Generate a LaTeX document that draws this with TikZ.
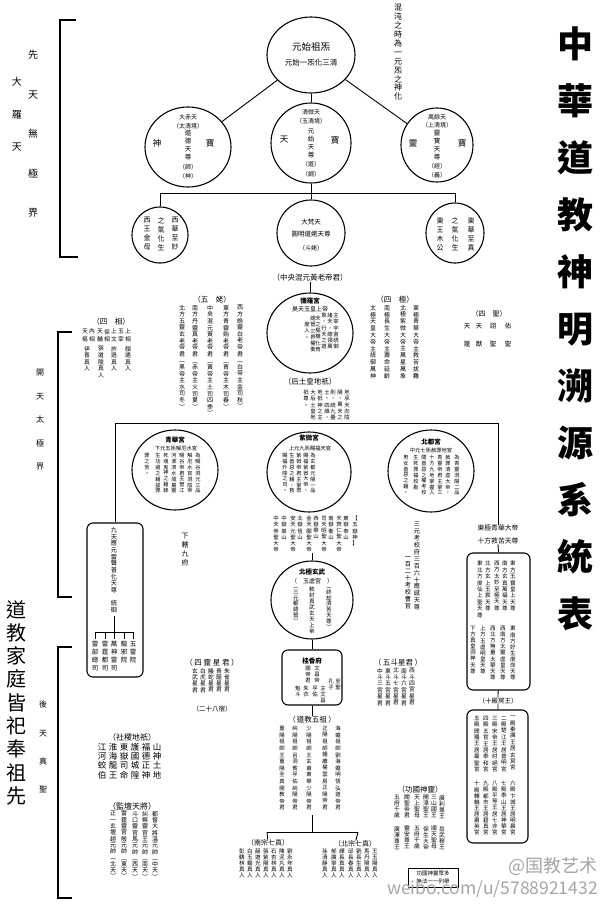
\documentclass[tikz,border=0pt]{standalone}
\usepackage{fontspec}
\setmainfont{Noto Sans CJK TC}
\usetikzlibrary{shapes.geometric}
\makeatletter
\def\vc@end{\vc@end@}
\def\vc#1{\vtop{\lineskiplimit=-50pt\lineskip=0pt\vc@loop#1\vc@end}}
\def\vc@loop#1{\ifx#1\vc@end\else\hbox to 1em{\hss#1\hss}\expandafter\vc@loop\fi}
\newcommand\vce[1]{\expandafter\vc\expandafter{#1}}
\makeatother
\newcommand\fs[2]{\fontsize{#1}{#2}\selectfont}
\tikzset{
 circ/.style={draw, ellipse, line width=1.1pt, inner sep=0pt},
 rbox/.style={draw, rectangle, rounded corners=6pt, line width=1.1pt, inner sep=0pt},
 pbox/.style={draw, rectangle, line width=0.8pt, inner sep=1pt},
 conn/.style={line width=0.9pt},
 brk/.style={line width=1.3pt},
 vtx/.style={inner sep=0pt, anchor=north, font=\fs{5.6}{6.4}},
 htx/.style={inner sep=0pt, font=\fs{5.6}{6.4}},
 head/.style={inner sep=0pt, font=\fs{7.5}{8}},
 wmark/.style={inner sep=0pt, text=black!35},
}
\newcommand\cols[4]{\foreach \xx/\cc [count=\ii] in {#4} {\node[vtx,#1] (#2\ii) at (\xx,#3) {\vce{\cc}};}}
\begin{document}
\begin{tikzpicture}[x=1pt,y=-1pt]
\fill[white] (0,0) rectangle (600,905);
\useasboundingbox (0,0) rectangle (600,905);

% ---------- titles ----------
\node[vtx, font=\bfseries\fs{36}{57}] (title) at (575,27) {\vc{中華道教神明溯源系統表}};
\node[vtx, font=\fs{20}{23.3}] (jiating) at (16,600) {\vc{道教家庭皆祀奉祖先}};
\node[vtx, font=\fs{8}{8.9}] (hundun) at (398,4) {\vc{混沌之時為一元炁之神化}};

% ---------- brackets ----------
\draw[brk] (76,20) -- (60,20) -- (60,257) -- (78,257);
\node[vtx, font=\fs{10}{39.5}] (xtl) at (33,50) {\vc{先天無極界}};
\node[vtx, font=\fs{10}{32.5}] (dlt) at (17,77) {\vc{大羅天}};
\draw[brk] (72,332) -- (58,332) -- (58,597) -- (72,597);
\node[vtx, font=\fs{8}{23.5}] (ktl) at (40,369) {\vc{開天太極界}};
\draw[brk] (72,647) -- (58,647) -- (58,898) -- (72,898);
\node[vtx, font=\fs{8}{28.3}] (htl) at (43,701) {\vc{後天真聖}};

% ---------- top circles ----------
\node[circ, minimum width=88pt, minimum height=76pt] (top) at (311,55) {};
\node[htx, font=\fs{9.5}{10}] (topa) at (311,47) {元始祖炁};
\node[htx, font=\fs{7.5}{8}] (topb) at (311,63) {元始一炁化三清};

\node[circ, minimum width=86pt, minimum height=80pt] (lc) at (188,147) {};
\node[htx, font=\fs{6}{6.5}] (lc1) at (188,117) {大赤天};
\node[htx, font=\fs{6}{6.5}] (lc2) at (188,126) {（太清境）};
\node[vtx, font=\fs{6.5}{8}] (lc3) at (188,130) {\vc{道德天尊}};
\node[htx, font=\fs{6}{6.5}] (lc4) at (188,167) {（師）};
\node[htx, font=\fs{6}{6.5}] (lc5) at (188,176) {（神）};
\node[htx, font=\fs{8.5}{9}] (lc6) at (157,143) {神};
\node[htx, font=\fs{8.5}{9}] (lc7) at (210,143) {寶};

\node[circ, minimum width=80pt, minimum height=80pt] (mc) at (311,143) {};
\node[htx, font=\fs{6}{6.5}] (mc1) at (311,112) {清微天};
\node[htx, font=\fs{6}{6.5}] (mc2) at (311,121) {（玉清境）};
\node[vtx, font=\fs{6.5}{8}] (mc3) at (311,128) {\vc{元始天尊}};
\node[htx, font=\fs{6}{6.5}] (mc4) at (311,164) {（道）};
\node[htx, font=\fs{6}{6.5}] (mc5) at (311,174) {（綱）};
\node[htx, font=\fs{8.5}{9}] (mc6) at (284,140) {天};
\node[htx, font=\fs{8.5}{9}] (mc7) at (335,140) {寶};

\node[circ, minimum width=72pt, minimum height=74pt] (rc) at (437,145) {};
\node[htx, font=\fs{6}{6.5}] (rc1) at (437,117) {禹餘天};
\node[htx, font=\fs{6}{6.5}] (rc2) at (437,125) {（上清境）};
\node[vtx, font=\fs{6.5}{8}] (rc3) at (437,130) {\vc{靈寶天尊}};
\node[htx, font=\fs{6}{6.5}] (rc4) at (437,166) {（經）};
\node[htx, font=\fs{6}{6.5}] (rc5) at (437,175) {（義）};
\node[htx, font=\fs{8.5}{9}] (rc6) at (413,143) {靈};
\node[htx, font=\fs{8.5}{9}] (rc7) at (462,143) {寶};

\draw[conn] (top) -- (lc);
\draw[conn] (top) -- (rc);
\draw[conn] (top) -- (mc);

\node[circ, minimum width=56pt, minimum height=56pt] (wc) at (160,235) {};
\cols{font=\fs{7}{9}}{wcc}{217}{147/西王金母,161/之氣化生,175/西華至妙}
\node[circ, minimum width=68pt, minimum height=66pt] (bc) at (311,233) {};
\node[htx, font=\fs{6.5}{7}] (bc1) at (311,222) {大梵天};
\node[htx, font=\fs{6.5}{7}] (bc2) at (311,234) {圓明道姥天尊};
\node[htx, font=\fs{6}{6.5}] (bc3) at (311,248) {（斗姥）};
\node[circ, minimum width=58pt, minimum height=60pt] (ec) at (455,233) {};
\cols{font=\fs{7}{9}}{ecc}{217}{440/東王木公,455/之氣化生,471/東華至真}

\coordinate (jl) at (160,193);
\coordinate (jr) at (455,193);
\draw[conn] (jl) -- (jr);
\draw[conn] (jl) -- (wc);
\draw[conn] (jr) -- (ec);
\draw[conn] (mc) -- (bc);

% ---------- middle: jade emperor ----------
\node[htx, font=\fs{7.5}{8}] (zy) at (310,278) {（中央混元黃老帝君）};
\node[circ, minimum width=86pt, minimum height=80pt] (ml) at (310,333) {};
\draw[conn] (zy) -- (ml);
\node[htx, font=\bfseries\fs{6.5}{7}] (ml1) at (310,301) {彌羅宮};
\node[htx, font=\fs{6}{6.5}] (ml2) at (310,309) {昊天玉皇上帝};
\cols{font=\fs{5.4}{6.2}}{mla}{313}{324/象，行天之道,330/諸天，總領萬,336/主宰宇宙統御}
\cols{font=\fs{5.4}{6.2}}{mlb}{316}{313/總管三界權衡,318/天之樞機化育}
\node[vtx, font=\fs{5.4}{6.2}] (mlc) at (307,322) {\vc{度人。}};

\node[htx, font=\fs{7.5}{8}] (htz) at (310,382) {（后土皇地祇）};
\cols{font=\fs{5.4}{6.2}}{htc}{390}{306/祇尊。,313/大后土皇地,320/地祇神之主,327/土，四維，,333/則，統九壘,340/陽，萬天之,347/地承天向陰}

% 五姥
\node[head] (wlh) at (212,300) {（五　姥）};
\cols{font=\fs{6}{6.6}}{wl}{305}{182/北方五靈玄老帝君︵黑帝主水司冬︶,195/南方丹靈真老帝君︵赤帝主火司夏︶,210/中央混元黃老帝君︵黃帝主土司四季︶,226/東方青靈始老帝君︵青帝主木司春︶,240/西方皓靈白老帝君︵白帝主金司秋︶}

% 四相
\node[head] (sxh) at (111,322) {（四　相）};
\cols{font=\fs{5.8}{7.5}}{sx}{329}{85/天樞,92/內相,100/天輔,107/保相,114/上文,121/玉宰,128/上相}
\cols{font=\fs{5.8}{6.6}}{sn}{346}{87/伊喜真人,101/張道陵真人,114/許遜真人,128/顏通真人}

% 四極
\node[head] (sjh) at (395,300) {（四　極）};
\cols{font=\fs{6}{6.8}}{sj}{305}{373/太極天皇大帝主統御萬神,387/南極長生大帝主壽命延齡,403/北極紫微大帝主萬星萬象,416/東極青華大帝主救苦拔難}

% 四聖
\node[htx, font=\fs{7}{7.5}] (ssh) at (489,314) {（四　聖）};
\cols{font=\fs{6.5}{18}}{ss}{323}{467/天蓬,479/天猷,493/翊聖,508/佑聖}

% ---------- main bar ----------
\coordinate (bl) at (115,423);
\coordinate (br) at (498,423);
\draw[conn] (bl) -- (br);

% 九天 box
\node[rbox, minimum width=56pt, minimum height=154pt] (jtb) at (115,600) {};
\draw[conn] (bl) -- (jtb.north);
\node[vtx, font=\fs{6.2}{6.7}] (jtb1) at (114,527) {\vc{九天應元雷聲普化天尊}};
\node[vtx, font=\fs{6.2}{6.7}] (jtb2) at (114,600) {\vc{統御}};
\coordinate (jt1) at (114,616);
\coordinate (jt2) at (114,632);
\coordinate (jt3) at (95,632);
\coordinate (jt4) at (133,632);
\draw[conn] (jt1) -- (jt2);
\draw[conn] (jt3) -- (jt4);
\foreach \xx [count=\ii] in {95,105,114,124,133} {\coordinate (jd\ii) at (\xx,639); \draw[conn] (\xx,632) -- (jd\ii);}
\cols{font=\fs{6.5}{8}}{jtc}{641}{95/雷部總司,105/雷霆都司,114/萬神雷司,124/驅邪院,133/五雷院}

\node[vtx, font=\fs{7}{9}] (xx9) at (185,533) {\vc{下轄九府}};

% 青華宮
\node[circ, minimum width=86pt, minimum height=80pt] (qh) at (175,470) {};
\node[htx, font=\bfseries\fs{6.5}{7}] (qh1) at (175,440) {青華宮};
\node[htx, font=\fs{5.3}{6}] (qh2) at (176,448) {下元五炁解厄水官};
\cols{font=\fs{5.2}{5.9}}{qhc}{453}{147/罪之苦。,158/生功過之籍拔罪,166/死魂鬼神之籍錄,174/河淮濟水域萬靈,182/暘谷帝君主管江,190/解厄水官洞陰帝,198/為暘谷洞元三品}

% 紫微宮
\node[circ, minimum width=84pt, minimum height=80pt] (zw) at (309,472) {};
\node[htx, font=\bfseries\fs{6.5}{7}] (zw1) at (309,438) {紫微宮};
\node[htx, font=\fs{5.3}{6}] (zw2) at (310,448) {上元九炁賜福天官};
\cols{font=\fs{5.2}{5.9}}{zwc}{453}{285/賜福升降之司。,292/生善惡之籍，救,299/紫微帝君主掌眾,306/賜福紫微大帝，,313/為玄都元陽一品}

% 北都宮
\node[circ, minimum width=86pt, minimum height=82pt] (bd) at (431,471) {};
\node[htx, font=\bfseries\fs{6.5}{7}] (bd1) at (431,442) {北都宮};
\node[htx, font=\fs{5.3}{6}] (bd2) at (431,450) {中元七炁赦罪地官};
\cols{font=\fs{5.2}{5.9}}{bdc}{455}{406/男女善惡之籍。,416/生死罪福校勘,424/間善惡之權考校,432/十方九地掌握人,440/青靈帝君主掌三,448/赦罪清虛大帝，,457/為青靈洞陽二品}

% 五嶽
\cols{font=\fs{5.4}{6.2}}{wy}{516}{276/中天崇聖大帝,284/中嶽嵩山,293/安天元聖大帝,300/北嶽恆山,309/金天願聖大帝,316/西嶽華山,324/司天昭聖大帝,331/南嶽衡山,339/天齊仁聖大帝,346/東嶽泰山,355/【五嶽神】}
\coordinate (wyb) at (312,553);

% 北極
\node[circ, minimum width=82pt, minimum height=78pt] (bj) at (312,600) {};
\draw[conn] (wyb) -- (bj);
\node[htx, font=\bfseries\fs{6.5}{7}] (bj1) at (312,572) {北極玄武};
\node[htx, font=\fs{6}{6.5}] (bj2) at (312,581) {（　玉虛宮　）};
\cols{font=\fs{5.6}{5.9}}{bjc}{587}{296/︵三元都總管︶,312/敕封真武玄天上帝,329/︵終劫濟苦天尊︶}

% 三元考校府
\node[vtx, font=\fs{6.2}{6.9}] (sy1) at (417,522) {\vc{三元考校府三百六十應感天尊}};
\node[vtx, font=\fs{6.2}{6.9}] (sy2) at (408,557) {\vc{一百二十考校曹官}};

% 梓潼 box
\node[rbox, minimum width=60pt, minimum height=55pt] (zt) at (312,677.5) {};
\draw[conn] (bj) -- (zt);
\node[htx, font=\bfseries\fs{6.5}{7}] (zt1) at (312,661) {桂香府};
\cols{font=\fs{5.4}{6}}{zta}{666}{308/關帝君,317/文昌帝}
\cols{font=\fs{5.4}{6}}{ztb}{686}{298/魁斗,306/朱衣,315/孚佑,323/主文昌}
\cols{font=\fs{5.4}{6}}{ztc}{679}{331/孔子,338/至聖}

% 道教五祖
\node[htx, font=\fs{7.5}{8}] (wz) at (312,720) {（\,道教五祖\,）};
\draw[conn] (zt) -- (wz);
\cols{font=\fs{5.4}{6.6}}{wzc}{726}{282/重陽祖師王重陽全真開教帝君,295/純陽祖師呂洞賓孚佑純陽帝君,309/少陽祖師王玄甫東華少陽帝君,325/正陽祖師鍾離權雲房正陽帝君,338/海蟾祖師劉海蟾明悟弘道帝君}
\coordinate (wzb) at (312,815);
\coordinate (wzj) at (312,832);
\coordinate (nzj) at (267,832);
\coordinate (bzj) at (358,832);
\draw[conn] (wzb) -- (wzj);
\draw[conn] (nzj) -- (bzj);
\node[htx, font=\fs{7}{7.5}] (nz) at (268,843) {（南宗七真）};
\node[htx, font=\fs{7}{7.5}] (bz) at (355,844) {（北宗七真）};
\draw[conn] (nzj) -- (nz);
\draw[conn] (bzj) -- (bz);
\cols{font=\fs{5.6}{6}}{nzc}{849}{242/彭鶴林真人,250/白玉蟾真人,258/薛道光真人,266/張紫陽真人,274/石杏林真人,282/陳泥丸真人,290/劉永年真人}
\cols{font=\fs{5.6}{6}}{bzc}{849}{325/孫清靜真人,334/郝廣寧真人,342/譚長真真人,351/邱長春真人,359/劉長生真人,367/馬丹陽真人,375/王玉陽真人}

% 四靈星君
\node[head] (slh) at (212,663) {（ 四 靈 星 君 ）};
\cols{font=\fs{5.8}{6.3}}{slc}{668}{195/玄武星君,203/白虎星君,211/螣蛇星君,219/青龍星君,227/朱雀星君}
\node[htx, font=\fs{6.5}{7}] (esb) at (212,709) {（二十八宿）};

% 社稷地祇
\node[head, font=\fs{8}{8.5}] (sjd) at (132,737) {（社稷地祇）};
\cols{font=\fs{8.5}{9.3}}{sjc}{743}{102/江河蛟伯,113/淮海龍王,124/東嶽司命,135/護國城隍,146/福德正神,157/山神土地}

% 監壇天將
\node[head, font=\fs{8}{8.5}] (jtj) at (132,806) {（監壇天將）};
\cols{font=\fs{6}{6.3}}{jtc2}{811}{113/正一玄壇趙元帥︵北天︶,124/雷霆靈官殷元帥︵東天︶,135/斗口靈官馬元帥︵西天︶,145/糾察靈官王元帥︵南天︶,155/都督大將溫元帥︵中天︶}

% 五斗星君
\node[head] (wdh) at (398,663) {（ 五斗星君 ）};
\cols{font=\fs{5.8}{6.4}}{wdc}{668}{380/中斗三宮星君,388/東斗五宮星君,396/北斗七宮星君,404/南斗六宮星君,412/西斗四宮星君}

% 功國神靈
\node[head] (ggh) at (420,790) {（功國神靈）};
\cols{font=\fs{5.8}{6}}{gga}{795}{397/五府千歲,407/關聖帝君,417/天上聖母,426/開漳聖王,434/三山國王,442/廣利尊王}
\cols{font=\fs{5.8}{6}}{ggb}{826}{397/廣澤尊王,407/靈安尊王,417/五府千歲,426/保生大帝,434/順天聖母,442/岳武穆王}
\node[pbox, minimum width=50pt, minimum height=19pt, align=center, font=\fs{5.5}{8}] (ggbox) at (433,877.5) {功國神靈眾多\\無法一一列舉};

% 東極 right column
\node[htx, font=\fs{6.8}{7.5}] (dj1) at (498,528) {東極青華大帝};
\node[htx, font=\fs{6.8}{7.5}] (dj2) at (498,541) {十方救苦天尊};
\draw[conn] (br) -- (dj1.north);
\node[rbox, minimum width=63pt, minimum height=137pt] (b1) at (498.5,621.5) {};
\draw[conn] (dj2.south) -- (b1.north);
\cols{font=\fs{5.6}{6.4}}{b1a}{561}{480/東北方度仙上聖天尊,488/北方玄上玉宸天尊,497/西方太妙至極天尊,505/南方玄真萬福天尊,513/東方玉寶皇上天尊}
\cols{font=\fs{5.6}{6.1}}{b1b}{626}{473/下方真皇洞神天尊,483/上方玉虛明皇天尊,493/西北方無量太華天尊,503/西南方太靈虛皇天尊,513/東南方好生度命天尊}
\node[htx, font=\fs{6.5}{7}] (sd) at (498,701) {（十殿冥王）};
\draw[conn] (b1) -- (sd);
\node[rbox, minimum width=61pt, minimum height=133pt] (b2) at (497.5,776.5) {};
\draw[conn] (sd) -- (b2);
\cols{font=\fs{5.6}{6.4}}{b2a}{716}{477/五殿閻羅王居最聖宮,486/四殿五官王居泰和宮,495/三殿宋帝王居紂絕宮,504/二殿楚江王居普明宮,513/一殿秦廣王居玄冥宮}
\cols{font=\fs{5.6}{6.1}}{b2b}{781}{477/十殿轉輪王居肅英宮,486/九殿都市王居碧真宮,495/八殿平等王居七非宮,504/七殿泰山王居神華宮,513/六殿卞城王居明晨宮}

% watermark
\node[wmark, font=\fs{18}{18}, anchor=east] (wm1) at (598,866) {@国教艺术};
\node[wmark, font=\fs{17.5}{18}, anchor=east] (wm2) at (598,889) {weibo.com/u/5788921432};
\end{tikzpicture}
\end{document}
